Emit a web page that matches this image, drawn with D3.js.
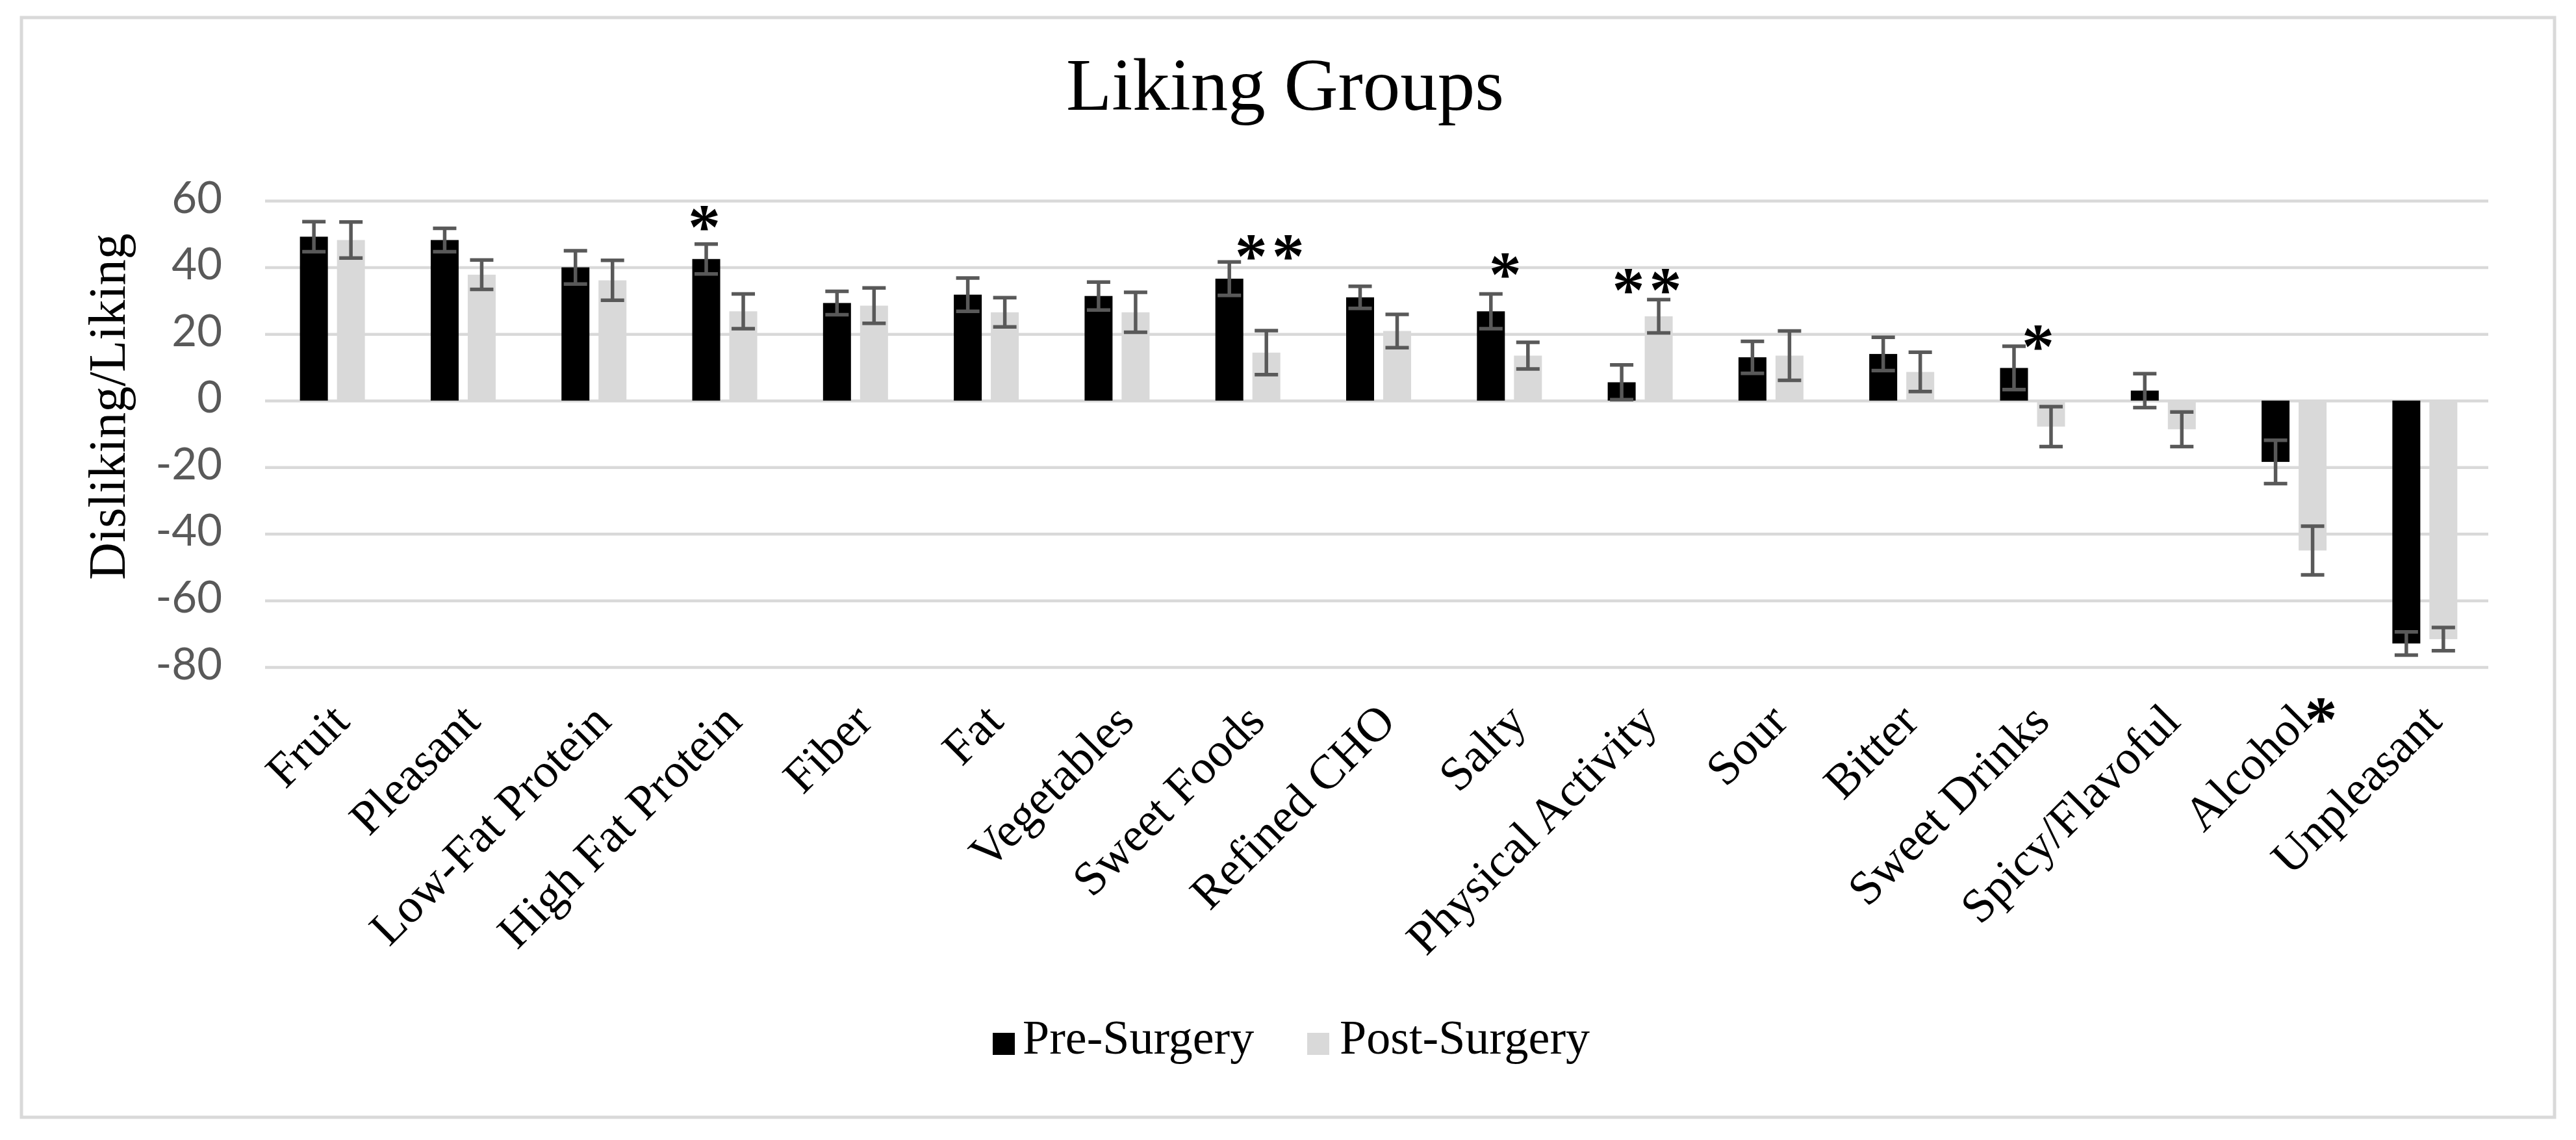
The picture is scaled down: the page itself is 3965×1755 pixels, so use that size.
<!DOCTYPE html>
<html>
<head>
<meta charset="utf-8">
<script src="https://cdn.jsdelivr.net/npm/d3@7/dist/d3.min.js"></script>
<style>
body { margin: 0; background: #fff; }
</style>
</head>
<body>
<div id="canvas"></div>
<script>
// ----------------------------------------------------------
// DATA -----------------------------------------------------
// ----------------------------------------------------------
var categories = ["Fruit", "Pleasant", "Low-Fat Protein", "High Fat Protein", "Fiber", "Fat",
  "Vegetables", "Sweet Foods", "Refined CHO", "Salty", "Physical Activity", "Sour", "Bitter",
  "Sweet Drinks", "Spicy/Flavoful", "Alcohol", "Unpleasant"];

var series_names = ["Pre-Surgery", "Post-Surgery"];

var pre_values  = [49.2, 48.2, 40, 42.5, 29.3, 31.8, 31.4, 36.6, 31, 26.8, 5.5, 13, 14, 9.8, 3, -18.4, -72.9];
var pre_errors  = [4.5, 3.5, 5, 4.5, 3.5, 5, 4.2, 5, 3.3, 5.2, 5.2, 4.8, 5, 6.5, 5.1, 6.5, 3.5];
var post_values = [48.2, 37.8, 36.1, 26.8, 28.5, 26.5, 26.5, 14.4, 20.9, 13.5, 25.3, 13.5, 8.6, -7.8, -8.6, -45, -71.6];
var post_errors = [5.4, 4.4, 6, 5.2, 5.3, 4.4, 6, 6.6, 5, 4, 5, 7.4, 5.9, 6, 5.2, 7.3, 3.5];

var y_ticks = [60, 40, 20, 0, -20, -40, -60, -80];

// significance marks: which category, how far off its centre, at which level
var annotations = [
  { term: "High Fat Protein", mark: "*",  dx: -25, level: 55.2 },
  { term: "Sweet Foods",      mark: "**", dx: 40,  level: 46.4 },
  { term: "Salty",            mark: "*",  dx: 0,   level: 40.9 },
  { term: "Physical Activity",mark: "**", dx: 17,  level: 36.3 },
  { term: "Sweet Drinks",     mark: "*",  dx: 15,  level: 19.3 },
  { term: "Alcohol",          mark: "*",  dx: 48,  level: -92.6 }
];

var data_set = {
  container_width: 3965,
  container_height: 1755,
  color_pre: "#000000",
  color_post: "#d9d9d9",
  color_grid: "#d9d9d9",
  color_err: "#595959",
  color_tick: "#595959",
  serif: "'Liberation Serif', 'Times New Roman', serif",
  sans: "Lato, 'Open Sans', sans-serif"
};

// table the scales read from
var rows = categories.map(function (term, i) {
  return {
    term: term,
    bars: [
      { series: series_names[0], value: pre_values[i],  err: pre_errors[i] },
      { series: series_names[1], value: post_values[i], err: post_errors[i] }
    ]
  };
});

// ----------------------------------------------------------
// STRUCTURE ------------------------------------------------
// ----------------------------------------------------------
var plot_left = 408, plot_right = 3830;

var container = d3.select("#canvas").append("svg")
  .attr("width", data_set.container_width)
  .attr("height", data_set.container_height)
  .style("background-color", "#fff");

// outer frame
container.append("rect")
  .attr("x", 33).attr("y", 27)
  .attr("width", 3899).attr("height", 1693)
  .attr("fill", "#fff")
  .attr("stroke", data_set.color_grid)
  .attr("stroke-width", 5);

var yScale = d3.scaleLinear()
  .domain([-80, 60])
  .range([1027, 309]);

var xScale = d3.scaleBand()
  .domain(categories)
  .range([plot_left, plot_right])
  .padding(0);

var xSub = d3.scaleBand()
  .domain(series_names)
  .range([-47, 53])
  .paddingInner(0.2456);

var color = d3.scaleOrdinal()
  .domain(series_names)
  .range([data_set.color_pre, data_set.color_post]);

// ----------------------------------------------------------
// GRID + Y AXIS --------------------------------------------
// ----------------------------------------------------------
var y_axis = container.append("g")
  .attr("class", "y_axis")
  .attr("transform", `translate(${plot_left}, 0)`)
  .call(d3.axisLeft(yScale)
    .tickValues(y_ticks)
    .tickFormat((d) => String(d))
    .tickSizeInner(-(plot_right - plot_left))
    .tickSizeOuter(0)
    .tickPadding(66));

y_axis.select(".domain").remove();
y_axis.selectAll(".tick line")
  .attr("stroke", data_set.color_grid)
  .attr("stroke-width", 4.5);
y_axis.selectAll(".tick text")
  .attr("fill", data_set.color_tick)
  .attr("dy", "0.27em")
  .style("font-family", data_set.sans)
  .style("font-size", "67px");

// ----------------------------------------------------------
// BARS -----------------------------------------------------
// ----------------------------------------------------------
var gfx_group = container.append("g").attr("class", "gfx_group");

var groups = gfx_group.selectAll(".cat")
  .data(rows)
  .enter()
  .append("g")
  .attr("class", "cat")
  .attr("transform", (d) => `translate(${xScale(d.term) + xScale.bandwidth() / 2}, 0)`);

groups.selectAll("rect")
  .data((d) => d.bars)
  .enter()
  .append("rect")
  .attr("x", (b) => xSub(b.series))
  .attr("width", xSub.bandwidth())
  .attr("y", (b) => yScale(Math.max(0, b.value)))
  .attr("height", (b) => Math.abs(yScale(b.value) - yScale(0)))
  .attr("fill", (b) => color(b.series));

// error bars
var cap = 36;
var err = groups.selectAll(".err")
  .data((d) => d.bars)
  .enter()
  .append("g")
  .attr("class", "err")
  .attr("stroke", data_set.color_err)
  .attr("stroke-width", 5.5);

err.append("line")
  .attr("x1", (b) => xSub(b.series) + xSub.bandwidth() / 2)
  .attr("x2", (b) => xSub(b.series) + xSub.bandwidth() / 2)
  .attr("y1", (b) => yScale(b.value + b.err))
  .attr("y2", (b) => yScale(b.value - b.err));

err.append("line")
  .attr("x1", (b) => xSub(b.series) + xSub.bandwidth() / 2 - cap / 2)
  .attr("x2", (b) => xSub(b.series) + xSub.bandwidth() / 2 + cap / 2)
  .attr("y1", (b) => yScale(b.value + b.err))
  .attr("y2", (b) => yScale(b.value + b.err));

err.append("line")
  .attr("x1", (b) => xSub(b.series) + xSub.bandwidth() / 2 - cap / 2)
  .attr("x2", (b) => xSub(b.series) + xSub.bandwidth() / 2 + cap / 2)
  .attr("y1", (b) => yScale(b.value - b.err))
  .attr("y2", (b) => yScale(b.value - b.err));

// ----------------------------------------------------------
// TEXT -----------------------------------------------------
// ----------------------------------------------------------
var text_group = container.append("g").attr("class", "text_group");

// category labels, rotated
text_group.selectAll(".x_label")
  .data(categories)
  .enter()
  .append("text")
  .attr("class", "x_label")
  .attr("transform", (d) => `translate(${xScale(d) + xScale.bandwidth() / 2 + 14}, 1096) rotate(-45)`)
  .attr("text-anchor", "end")
  .attr("dy", "0.35em")
  .style("font-family", data_set.serif)
  .style("font-size", "74px")
  .attr("fill", "#000")
  .text((d) => d);

// significance marks
text_group.selectAll(".sig")
  .data(annotations)
  .enter()
  .append("text")
  .attr("class", "sig")
  .attr("x", (a) => xScale(a.term) + xScale.bandwidth() / 2 + a.dx)
  .attr("y", (a) => yScale(a.level))
  .attr("dy", "0.48em")
  .attr("text-anchor", "middle")
  .style("font-family", data_set.serif)
  .style("font-weight", "bold")
  .style("font-size", "100px")
  .style("letter-spacing", "7px")
  .attr("fill", "#000")
  .text((a) => a.mark);

// y title
text_group.append("text")
  .attr("transform", "translate(192, 626) rotate(-90)")
  .attr("text-anchor", "middle")
  .style("font-family", data_set.serif)
  .style("font-size", "80px")
  .attr("fill", "#000")
  .text("Disliking/Liking");

// chart title
text_group.append("text")
  .attr("x", 1978)
  .attr("y", 169)
  .attr("text-anchor", "middle")
  .style("font-family", data_set.serif)
  .style("font-size", "115px")
  .attr("fill", "#000")
  .text("Liking Groups");

// legend
var legend_x = [1528, 2012];
var legend = text_group.selectAll(".legend")
  .data(series_names)
  .enter()
  .append("g")
  .attr("class", "legend")
  .attr("transform", (d, i) => `translate(${legend_x[i]}, 1590)`);

legend.append("rect")
  .attr("width", 34)
  .attr("height", 34)
  .attr("fill", (d) => color(d));

legend.append("text")
  .attr("x", (d, i) => i === 0 ? 46 : 50)
  .attr("y", 32)
  .style("font-family", data_set.serif)
  .style("font-size", "74px")
  .attr("fill", "#000")
  .text((d) => d);
</script>
</body>
</html>
